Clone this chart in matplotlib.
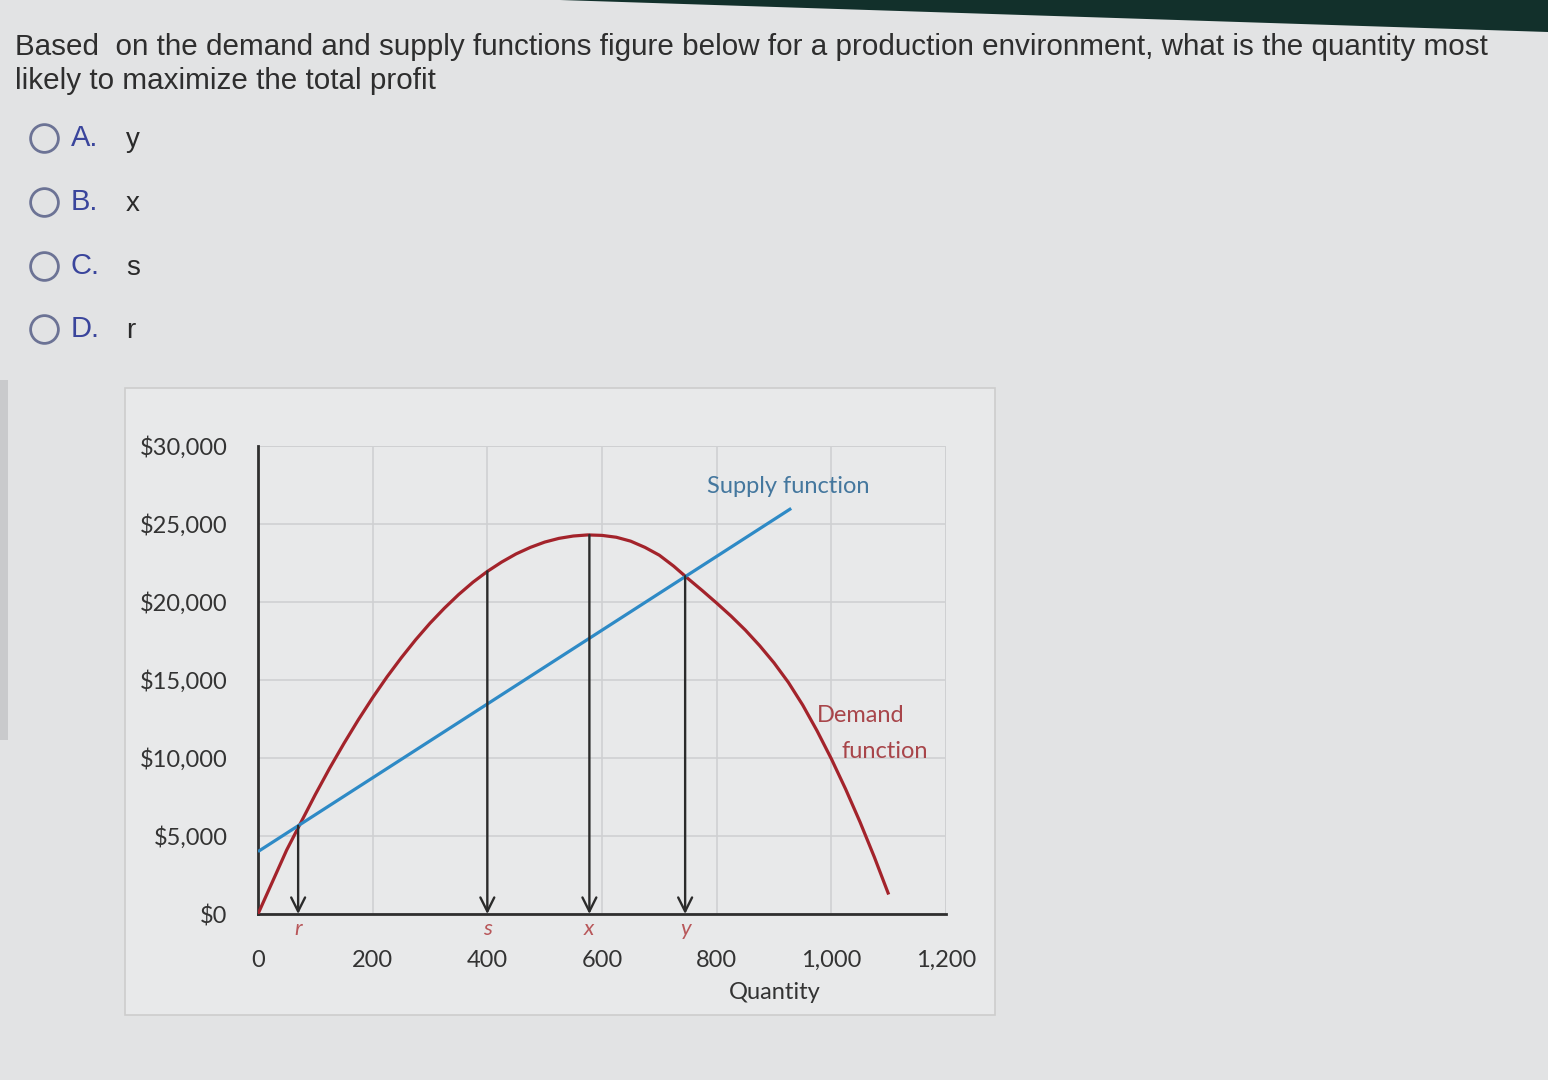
import matplotlib
matplotlib.use("Agg")
import matplotlib.pyplot as plt
from matplotlib.patches import Rectangle, Polygon
from matplotlib.lines import Line2D

# ---------------- data ----------------
question_lines = [
    "Based  on the demand and supply functions figure below for a production environment, what is the quantity most",
    "likely to maximize the total profit",
]
option_letters = ["A.", "B.", "C.", "D."]
option_answers = ["y", "x", "s", "r"]

quantity = [0, 25, 50, 75, 100, 125, 150, 175, 200, 225, 250, 275, 300, 325,
            350, 375, 400, 425, 450, 475, 500, 525, 550, 575, 600, 625, 650,
            675, 700, 725, 750, 775, 800, 825, 850, 875, 900, 925, 950, 975,
            1000, 1025, 1050, 1075, 1100]
demand = [0, 2050, 4100, 5880, 7660, 9350, 10940, 12450, 13870, 15200, 16430,
          17580, 18640, 19600, 20480, 21270, 21960, 22560, 23080, 23500, 23840,
          24080, 24230, 24300, 24270, 24150, 23900, 23500, 23000, 22300, 21500,
          20730, 19930, 19100, 18200, 17200, 16100, 14850, 13400, 11750, 9950,
          8000, 5900, 3650, 1250]

supply_q = [0, 930]
supply_v = [4000, 26000]

marker_names = ["r", "s", "x", "y"]
marker_q = [70, 400, 578, 745]
marker_top = [5660, 21960, 24300, 21660]

x_ticks = [0, 200, 400, 600, 800, 1000, 1200]
x_tick_labels = ["0", "200", "400", "600", "800", "1,000", "1,200"]
y_ticks = [0, 5000, 10000, 15000, 20000, 25000, 30000]
y_tick_labels = ["$0", "$5,000", "$10,000", "$15,000", "$20,000", "$25,000", "$30,000"]

# ---------------- figure ----------------
W, H = 1548, 1080
fig = plt.figure(figsize=(W / 100, H / 100), dpi=100)
fig.patch.set_facecolor("#e2e3e4")


def fx(px):
    return px / W


def fy(py):
    return 1 - py / H


# dark band at top right
fig.add_artist(Polygon([(fx(560), fy(0)), (fx(W), fy(0)), (fx(W), fy(32))],
                       closed=True, transform=fig.transFigure,
                       facecolor="#12302b", edgecolor="none", zorder=0))
# faint strip at left edge
fig.add_artist(Rectangle((0, fy(740)), fx(8), fy(380) - fy(740),
                         transform=fig.transFigure, facecolor="#c9cacc",
                         edgecolor="none", zorder=0))

# question text
qfont = dict(family="Liberation Sans", color="#2e2e2e", fontsize=21.3)
fig.text(fx(15), fy(47), question_lines[0], va="center", ha="left", **qfont)
fig.text(fx(15), fy(81), question_lines[1], va="center", ha="left", **qfont)

# options
opt_y = [138, 202, 266, 329]
for yy, let, ans in zip(opt_y, option_letters, option_answers):
    fig.add_artist(Line2D([fx(44)], [fy(yy)], marker="o", markersize=20,
                          markerfacecolor="none", markeredgecolor="#6c7395",
                          markeredgewidth=2, transform=fig.transFigure))
    fig.text(fx(71), fy(yy), let, family="Liberation Sans", fontsize=21,
             color="#3a459c", va="center", ha="left")
    fig.text(fx(126), fy(yy + 2), ans, family="Liberation Sans", fontsize=20,
             color="#2a2a2a", va="center", ha="left")

# chart panel
fig.add_artist(Rectangle((fx(125), fy(1015)), fx(995) - fx(125), fy(388) - fy(1015),
                         transform=fig.transFigure, facecolor="#e8e9ea",
                         edgecolor="#cdcdcd", lw=1.2, zorder=0))

# axes
ax_l, ax_r, ax_t, ax_b = 258, 946, 446, 914
ax = fig.add_axes([fx(ax_l), fy(ax_b), fx(ax_r) - fx(ax_l), fy(ax_t) - fy(ax_b)])
ax.set_facecolor("none")
ax.set_xlim(0, 1200)
ax.set_ylim(0, 30000)

ax.set_xticks(x_ticks)
ax.set_xticklabels(x_tick_labels)
ax.set_yticks(y_ticks)
ax.set_yticklabels(y_tick_labels)
ax.grid(True, color="#cfd0d2", lw=1.2)
ax.set_axisbelow(True)
for s in ["top", "right"]:
    ax.spines[s].set_visible(False)
for s in ["left", "bottom"]:
    ax.spines[s].set_color("#2f2f2f")
    ax.spines[s].set_linewidth(2)
ax.tick_params(length=0, labelsize=17, labelcolor="#333333")
ax.tick_params(axis="x", pad=26)
ax.tick_params(axis="y", pad=22)
for lab in ax.get_xticklabels() + ax.get_yticklabels():
    lab.set_family("Lato")

# gridline borders at the top/right limits
ax.axhline(30000, color="#cfd0d2", lw=1.2, zorder=0)
ax.axvline(1200, color="#cfd0d2", lw=1.2, zorder=0)

# curves
ax.plot(quantity, demand, color="#a3232b", lw=2.3, solid_capstyle="butt",
        solid_joinstyle="round", zorder=3)
ax.plot(supply_q, supply_v, color="#2e8ac6", lw=2.3, solid_capstyle="butt", zorder=3)

# arrows
for name, q, top in zip(marker_names, marker_q, marker_top):
    ax.annotate("", xy=(q, 0), xytext=(q, top),
                arrowprops=dict(arrowstyle="->,head_length=1.0,head_width=0.5",
                                color="#2b2b2b", lw=1.7, shrinkA=0, shrinkB=0),
                zorder=4)
    ax.text(q, -950, name, ha="center", va="center", fontsize=16, style="italic",
            family="Lato", color="#b8575a")

# labels
ax.text(925, 27400, "Supply function", ha="center", va="center", fontsize=17,
        family="Lato", color="#44779e")
ax.text(975, 12700, "Demand", ha="left", va="center", fontsize=17,
        family="Lato", color="#a8454a")
ax.text(1018, 10400, "function", ha="left", va="center", fontsize=17,
        family="Lato", color="#a8454a")

ax.set_xlabel("Quantity", family="Lato", fontsize=17, color="#333333")
ax.xaxis.set_label_coords(0.751, -0.145)

fig.savefig("out.png", dpi=100, facecolor=fig.get_facecolor())
